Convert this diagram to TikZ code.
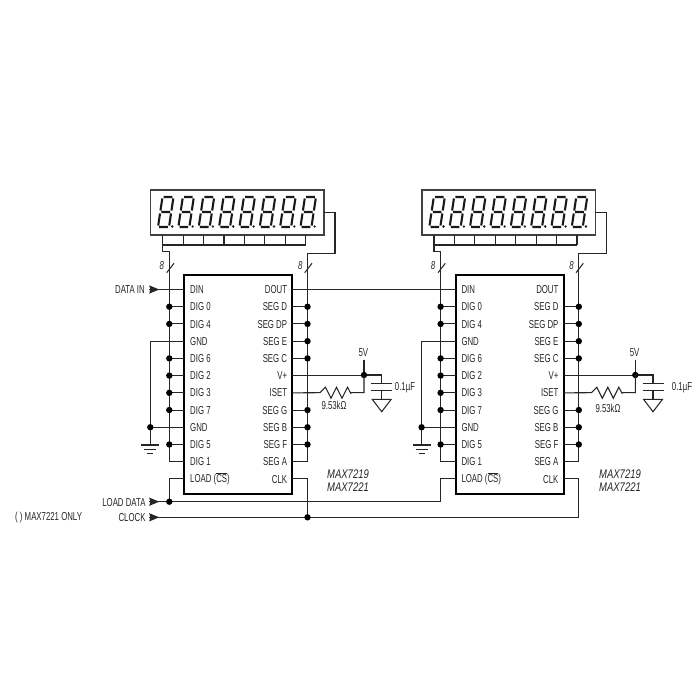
\documentclass[tikz,border=0pt]{standalone}
\usepackage{fontspec}
\usetikzlibrary{calc}
\usetikzlibrary{arrows.meta}
\setmainfont[FakeStretch=.68]{Liberation Sans}
\newfontfamily\partfont[FakeStretch=.76]{Liberation Sans}
\tikzset{
	wire/.style={draw=black!85,line width=1.05pt},
	chipbox/.style={draw=black,line width=1.9pt},
	dispbox/.style={draw=black!75,line width=1.1pt,fill=white},
	seg/.style={draw=black!90,line width=2.1pt},
	pinlabel/.style={font=\fontsize{11.5}{12}\selectfont,inner sep=0pt,text=black!85},
	partlabel/.style={font=\partfont\fontsize{12.5}{13}\selectfont\itshape,inner sep=0pt,text=black!85},
	feed/.style={wire,-{Stealth[length=10pt,width=8pt,inset=1pt]}},
	segdigit/.pic={
		\draw[seg,xslant=.15] (1.2,-30) -- (9.8,-30) (1.2,-15) -- (9.8,-15) (1.2,0) -- (9.8,0)
		(0,-28.5) -- (0,-16.5) (11,-28.5) -- (11,-16.5)
		(0,-13.5) -- (0,-1.5) (11,-13.5) -- (11,-1.5);
		\fill[black!90] (14.2,-.5) circle (1.3);
	},
	grnd/.pic={
		\draw[wire] (-9,0) -- (9,0) (-6,4.3) -- (6,4.3) (-3,8.6) -- (3,8.6);
	},
	driver/.pic={
		% display and its digit lines
		\draw[dispbox] (150.7,190) rectangle (324,235);
		\foreach \i in {0,...,7} {
			\pic at ($ (158,227) + (20.35*\i,0) $) {segdigit};
			\coordinate (-tab\i) at ($ (162.7,235) + (20.43*\i,0) $);
			\draw[wire] (-tab\i) -- ++(0,10);
		}
		\draw[wire] ($ (-tab0) + (0,10) $) -- ($ (-tab7) + (0,10) $);
		% chip
		\draw[chipbox] (184.3,275) rectangle (292.3,494);
		\foreach \pin/\txt [count=\k from 0] in {din/DIN,dig0/DIG 0,dig4/DIG 4,gnda/GND,dig6/DIG 6,dig2/DIG 2,dig3/DIG 3,dig7/DIG 7,gndb/GND,dig5/DIG 5,dig1/DIG 1,load/LOAD (${\overline{\mbox{CS}}}$)} {
			\coordinate (-\pin) at (184.3,289.5+17.22*\k);
			\node[pinlabel,anchor=west] (-\pin txt) at (190,289.7+17.22*\k) {\txt};
		}
		\foreach \pin/\txt [count=\k from 0] in {dout/DOUT,segd/SEG D,segdp/SEG DP,sege/SEG E,segc/SEG C,vplus/V+,iset/ISET,segg/SEG G,segb/SEG B,segf/SEG F,sega/SEG A,clk/CLK} {
			\coordinate (-\pin) at (292.3,289.5+17.22*\k);
			\node[pinlabel,anchor=east] (-\pin txt) at (287.3,289.7+17.22*\k) {\txt};
		}
		% left bus
		\coordinate (-lbus) at (169.3,251.7);
		\draw[wire] (-tab0) -- (162.7,251.7) -- (-lbus) -- (-lbus |- -dig1) -- (-dig1);
		\foreach \pin in {dig0,dig4,dig6,dig2,dig3,dig7,dig5} {
			\draw[wire] (-lbus |- -\pin) -- (-\pin);
			\fill (-lbus |- -\pin) circle (3.2);
		}
		% right bus
		\coordinate (-rbus) at (307.5,253.3);
		\draw[wire] (324,212.3) -- (335,212.3) -- (335,253.3) -- (-rbus) -- (-rbus |- -sega) -- (-sega);
		\foreach \pin in {segd,segdp,sege,segc,segg,segb,segf} {
			\draw[wire] (-rbus |- -\pin) -- (-\pin);
			\fill (-rbus |- -\pin) circle (3.2);
		}
		\draw[wire] (166.7,272.7) -- (174,263.3);
		\draw[wire] (304.7,272.7) -- (312,263.3);
		\node[pinlabel] (-cnta) at (161.7,266) {\itshape 8};
		\node[pinlabel] (-cntb) at (300.3,266) {\itshape 8};
		% ground
		\coordinate (-gbus) at (150.3,445);
		\draw[wire] (-gnda) -- (-gnda -| -gbus) -- (-gbus);
		\draw[wire] (-gbus |- -gndb) -- (-gndb);
		\fill (-gbus |- -gndb) circle (3.2);
		\pic at (-gbus) {grnd};
		% supply
		\coordinate (-vtop) at (364,375);
		\coordinate (-vcc) at (364,359.5);
		\coordinate (-cap) at (381.7,375);
		\coordinate (-rin) at (320,392.7);
		\coordinate (-rout) at (351.7,392.7);
		\node[pinlabel] (-five) at (363.3,353) {5V};
		\draw[wire] (-vplus) -- (-vplus -| -vtop);
		\draw[wire] (-vcc) -- (-vtop) -- (-cap) -- ++(0,8.3);
		\fill (-vtop) circle (3.2);
		\draw[wire] (-iset) -- (-rin)
		-- ++(5.5,-5.5) -- ++(5.5,11) -- ++(5.5,-11) -- ++(5.5,11) -- ++(5.5,-11) -- ++(3.2,6) -- (-rout)
		-- (-rout -| -vtop) -- (-vtop);
		\draw[wire] ($ (-cap) + (-10.5,8.3) $) -- ++(21,0);
		\draw[wire] ($ (-cap) + (-10.5,15.7) $) -- ++(21,0);
		\draw[wire] ($ (-cap) + (0,15.7) $) -- ++(0,8.6);
		\draw[wire] ($ (-cap) + (-9.5,24.3) $) -- ++(19,0) -- ++(-9.5,12.4) -- cycle;
		% clock and load stubs
		\coordinate (-lstub) at (-lbus |- 0,501.7);
		\coordinate (-cstub) at (-rbus |- 0,517.3);
		\draw[wire] (-load) -- (-load -| -lbus) -- (-lstub);
		\draw[wire] (-clk) -- (-clk -| -rbus) -- (-cstub);
	},
}
\begin{document}
\begin{tikzpicture}[x=1pt,y=-1pt]
	\useasboundingbox (0,0) rectangle (700,700);
	\fill[white] (0,0) rectangle (700,700);
	\pic (ua) at (0,0) {driver};
	\pic (ub) at (271.3,0) {driver};
	% inputs
	\coordinate (datain) at (149.3,289.5);
	\coordinate (loadin) at (149.3,501.7);
	\coordinate (clkin) at (149.3,517.3);
	\node[pinlabel,anchor=east] (datatxt) at (145,290) {DATA IN};
	\node[pinlabel,anchor=east] (loadtxt) at (145.7,502.7) {LOAD DATA};
	\node[pinlabel,anchor=east] (clktxt) at (145.7,517.8) {CLOCK};
	\node[pinlabel,anchor=west] (onlytxt) at (15,518) {( ) MAX7221 ONLY};
	\draw[feed] (datain) -- ++(10,0);
	\draw[feed] (loadin) -- ++(10,0);
	\draw[feed] (clkin) -- ++(10,0);
	\draw[wire] (datain) -- (ua-din);
	\draw[wire] (ua-dout) -- (ub-din);
	\draw[wire] (loadin) -- (ub-lstub);
	\draw[wire] (clkin) -- (ub-cstub);
	\fill (ua-lstub) circle (3.2);
	\fill (ua-cstub) circle (3.2);
	% labels outside the sections
	\node[pinlabel] (ra) at (334,405.5) {9.53kΩ};
	\node[pinlabel] (rb) at (608,408) {9.53kΩ};
	\node[pinlabel] (ca) at (405,388) {0.1µF};
	\node[pinlabel] (cb) at (682,387.5) {0.1µF};
	\node[partlabel] (parta) at (348,474.5) {MAX7219};
	\node[partlabel] (partb) at (348,487) {MAX7221};
	\node[partlabel] (partc) at (620,474.5) {MAX7219};
	\node[partlabel] (partd) at (620,487) {MAX7221};
\end{tikzpicture}
\end{document}
